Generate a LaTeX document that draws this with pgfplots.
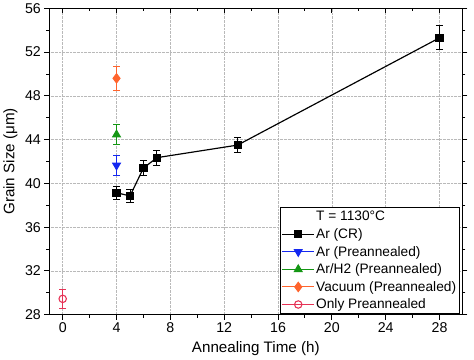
\documentclass[border=0pt]{standalone}
\usepackage{pgfplots}
\pgfplotsset{compat=1.18}
\usepackage{fontspec}
\setmainfont{Liberation Sans}
\definecolor{cblue}{RGB}{20,40,240}
\definecolor{cgreen}{RGB}{20,150,20}
\definecolor{corange}{RGB}{255,100,45}
\definecolor{cred}{RGB}{230,50,85}
\pgfplotsset{
  base/.style={width=422pt,height=313pt,scale only axis,
    xmin=-1,xmax=29.7,ymin=28,ymax=56,
    xtick={0,4,...,28},ytick={28,32,...,56},
    minor x tick num=1,minor y tick num=1,
    major tick length=5pt,minor tick length=3pt,
    axis line style={line width=1.1pt},
    every tick/.style={black,line width=0.9pt}},
}
\begin{document}
\begin{tikzpicture}
\begin{axis}[base,
  tick pos=left, tick align=outside,
  /pgf/number format/assume math mode=true,
  ticklabel style={font=\fontsize{14.5}{16}\selectfont},
  xlabel={Annealing Time (h)}, ylabel={Grain Size (μm)},
  label style={font=\fontsize{15.5}{17}\selectfont},
  xlabel style={yshift=-2pt},
  ylabel style={yshift=1pt},
  grid=major, major grid style={densely dotted, gray!55, line width=0.6pt},
  legend cell align=left,
  legend style={at={(0.993,0.35)},anchor=north east,
    font=\fontsize{14}{15}\selectfont, draw=black, line width=0.9pt,
    inner sep=1.5pt, row sep=2.3pt, nodes={inner xsep=1.5pt}},
  legend image code/.code={
    \draw[#1,mark repeat=2,mark phase=2] plot coordinates {(0cm,0cm) (0.57cm,0cm) (1.14cm,0cm)};},
  error bars/y dir=both, error bars/y explicit,
  error bars/error bar style={line width=0.9pt},
  error bars/error mark options={rotate=90,mark size=3.6pt,line width=0.9pt},
]
\addlegendimage{empty legend}
\addlegendentry{T = 1130°C}
\addplot[black,line width=1.2pt,mark=square*,mark size=3.6pt,mark options={solid}]
  coordinates {(4,39.15)+-(0,0.6) (5,38.85)+-(0,0.6) (6,41.4)+-(0,0.7) (7,42.35)+-(0,0.7) (13,43.5)+-(0,0.7) (28,53.3)+-(0,1.1)};
\addlegendentry{Ar (CR)}
\addplot[cblue,line width=1pt,mark=triangle*,mark size=4.6pt,mark options={rotate=180}]
  coordinates {(4,41.65)+-(0,0.9)};
\addlegendentry{Ar (Preannealed)}
\addplot[cgreen,line width=1pt,mark=triangle*,mark size=4.6pt]
  coordinates {(4,44.45)+-(0,0.9)};
\addlegendentry{Ar/H2 (Preannealed)}
\addplot[corange,line width=1pt,mark=diamond*,mark size=4.8pt]
  coordinates {(4,49.6)+-(0,1.1)};
\addlegendentry{Vacuum (Preannealed)}
\addplot[cred,line width=1pt,mark=o,mark size=3.8pt,mark options={line width=1.1pt}]
  coordinates {(0,29.45)+-(0,0.85)};
\addlegendentry{Only Preannealed}
\end{axis}
\begin{axis}[base, xtick pos=right, tick align=inside, ytick=\empty, xticklabels={}]
\end{axis}
\begin{axis}[base, ytick pos=right, tick align=outside, xtick=\empty, yticklabels={}]
\end{axis}
\end{tikzpicture}
\end{document}
